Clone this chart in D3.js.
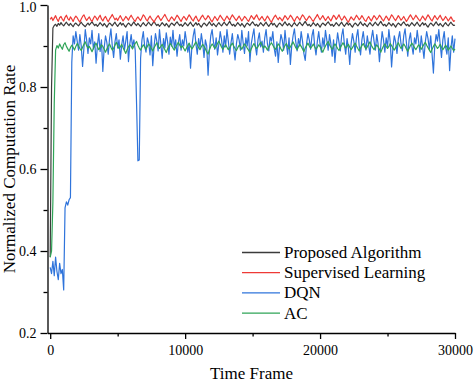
<!DOCTYPE html>
<html><head><meta charset="utf-8">
<script src="https://cdn.jsdelivr.net/npm/d3@7"></script>
<style>
html,body{margin:0;padding:0;background:#fff;}
svg{display:block;}
text{font-family:"Liberation Serif","Times New Roman",Times,serif;fill:#000;}
</style>
</head><body>
<svg id="chart" width="474" height="382"></svg>
<script>
// ---- data ----
const frames = d3.range(0, 30001, 100); // time frame of each sample
const seriesNames = ["Proposed Algorithm", "Supervised Learning", "DQN", "AC"];
const xMajorTicks = [0, 10000, 20000, 30000];
const xMinorTicks = [5000, 15000, 25000];
const yMajorTicks = [0.2, 0.4, 0.6, 0.8, 1.0];
const yMinorTicks = [0.3, 0.5, 0.7, 0.9];
const yTickLabels = ["0.2", "0.4", "0.6", "0.8", "1.0"];
const xTickLabels = ["0", "10000", "20000", "30000"];

const proposed = [
0.385,0.800,0.944,0.950,0.953,0.948,0.955,0.951,0.957,0.952,0.949,0.954,0.958,0.953,0.950,0.955,0.951,0.947,0.953,0.956,
0.952,0.949,0.954,0.958,0.953,0.950,0.947,0.952,0.956,0.951,0.955,0.959,0.954,0.950,0.953,0.948,0.952,0.957,0.953,0.949,
0.955,0.951,0.946,0.952,0.956,0.953,0.949,0.954,0.958,0.952,0.948,0.953,0.957,0.951,0.955,0.950,0.946,0.952,0.956,0.953,
0.949,0.954,0.959,0.953,0.950,0.955,0.951,0.947,0.953,0.957,0.952,0.949,0.954,0.958,0.953,0.950,0.955,0.960,0.954,0.950,
0.953,0.948,0.952,0.957,0.953,0.949,0.955,0.951,0.946,0.952,0.956,0.953,0.950,0.955,0.959,0.954,0.950,0.953,0.948,0.952,
0.957,0.953,0.949,0.954,0.958,0.952,0.948,0.953,0.957,0.951,0.955,0.950,0.946,0.952,0.956,0.953,0.949,0.954,0.959,0.953,
0.950,0.955,0.951,0.947,0.953,0.957,0.952,0.949,0.954,0.958,0.953,0.950,0.955,0.960,0.954,0.950,0.953,0.948,0.952,0.957,
0.953,0.949,0.955,0.951,0.946,0.952,0.956,0.953,0.950,0.955,0.959,0.954,0.950,0.953,0.948,0.952,0.957,0.953,0.949,0.954,
0.958,0.952,0.948,0.953,0.957,0.951,0.955,0.950,0.946,0.952,0.956,0.953,0.949,0.954,0.959,0.953,0.950,0.955,0.951,0.947,
0.953,0.957,0.952,0.949,0.954,0.958,0.953,0.950,0.955,0.960,0.954,0.950,0.953,0.948,0.952,0.957,0.953,0.949,0.955,0.951,
0.946,0.952,0.956,0.953,0.950,0.955,0.959,0.954,0.950,0.953,0.948,0.952,0.957,0.953,0.949,0.954,0.958,0.952,0.948,0.953,
0.957,0.951,0.955,0.950,0.946,0.952,0.956,0.953,0.949,0.954,0.959,0.953,0.950,0.955,0.951,0.947,0.953,0.957,0.952,0.949,
0.954,0.958,0.953,0.950,0.955,0.960,0.954,0.950,0.953,0.948,0.952,0.957,0.953,0.949,0.955,0.951,0.946,0.952,0.956,0.953,
0.950,0.955,0.959,0.954,0.950,0.953,0.948,0.952,0.957,0.953,0.949,0.954,0.958,0.952,0.948,0.953,0.957,0.951,0.955,0.950,
0.946,0.952,0.956,0.953,0.949,0.954,0.959,0.953,0.950,0.955,0.951,0.947,0.953,0.957,0.952,0.949,0.954,0.958,0.953,0.950,
0.951];

const supervised = [
0.965,0.970,0.962,0.968,0.974,0.966,0.960,0.969,0.972,0.965,0.961,0.970,0.975,0.967,0.963,0.971,0.966,0.960,0.968,0.973,
0.969,0.963,0.958,0.966,0.972,0.976,0.968,0.962,0.967,0.971,0.964,0.960,0.967,0.973,0.969,0.963,0.970,0.975,0.966,0.961,
0.968,0.972,0.965,0.959,0.966,0.971,0.977,0.970,0.964,0.968,0.962,0.969,0.974,0.967,0.961,0.966,0.972,0.968,0.963,0.970,
0.975,0.969,0.964,0.960,0.967,0.971,0.966,0.962,0.969,0.976,0.972,0.965,0.961,0.968,0.973,0.967,0.963,0.958,0.965,0.970,
0.974,0.968,0.962,0.967,0.972,0.977,0.970,0.964,0.960,0.966,0.971,0.967,0.962,0.969,0.975,0.971,0.965,0.960,0.967,0.972,
0.968,0.963,0.970,0.976,0.971,0.965,0.961,0.968,0.973,0.966,0.960,0.965,0.971,0.975,0.969,0.964,0.968,0.974,0.970,0.963,
0.959,0.966,0.972,0.967,0.962,0.969,0.975,0.970,0.965,0.961,0.967,0.973,0.968,0.963,0.970,0.976,0.971,0.966,0.962,0.968,
0.973,0.967,0.961,0.966,0.972,0.969,0.964,0.960,0.967,0.974,0.970,0.965,0.971,0.976,0.969,0.963,0.968,0.972,0.966,0.961,
0.967,0.973,0.968,0.962,0.958,0.965,0.971,0.975,0.969,0.964,0.970,0.966,0.961,0.968,0.974,0.970,0.964,0.969,0.975,0.971,
0.965,0.960,0.967,0.972,0.968,0.963,0.970,0.976,0.972,0.966,0.962,0.968,0.973,0.969,0.964,0.960,0.966,0.971,0.977,0.970,
0.964,0.969,0.974,0.968,0.962,0.967,0.972,0.966,0.961,0.968,0.975,0.971,0.965,0.970,0.976,0.969,0.963,0.967,0.973,0.968,
0.962,0.958,0.965,0.971,0.967,0.963,0.969,0.975,0.970,0.964,0.968,0.974,0.969,0.963,0.960,0.967,0.972,0.966,0.961,0.968,
0.974,0.970,0.964,0.969,0.975,0.971,0.965,0.961,0.967,0.973,0.968,0.962,0.969,0.976,0.972,0.966,0.962,0.968,0.974,0.969,
0.963,0.967,0.972,0.966,0.960,0.965,0.971,0.976,0.970,0.964,0.969,0.975,0.970,0.965,0.961,0.967,0.973,0.968,0.963,0.970,
0.976,0.971,0.965,0.961,0.968,0.974,0.969,0.964,0.970,0.975,0.968,0.962,0.966,0.972,0.967,0.961,0.966,0.971,0.965,0.960,
0.962];

const dqn = [
0.360,0.345,0.375,0.340,0.385,0.350,0.330,0.370,0.345,0.355,0.305,0.505,0.520,0.512,0.525,0.530,0.860,0.925,0.905,0.935,
0.912,0.890,0.928,0.900,0.850,0.895,0.940,0.915,0.882,0.920,0.905,0.938,0.893,0.910,0.858,0.902,0.930,0.887,0.915,0.838,
0.895,0.925,0.908,0.880,0.918,0.942,0.900,0.872,0.910,0.930,0.895,0.915,0.868,0.903,0.925,0.890,0.912,0.935,0.862,0.905,
0.928,0.898,0.915,0.890,0.760,0.620,0.622,0.870,0.915,0.935,0.900,0.885,0.920,0.908,0.878,0.925,0.852,0.900,0.930,0.912,
0.888,0.940,0.905,0.870,0.918,0.895,0.932,0.910,0.880,0.922,0.900,0.938,0.895,0.915,0.875,0.908,0.928,0.890,0.915,0.900,
0.935,0.912,0.885,0.905,0.846,0.898,0.925,0.942,0.905,0.880,0.918,0.895,0.930,0.908,0.872,0.915,0.900,0.829,0.890,0.925,
0.940,0.910,0.892,0.920,0.878,0.905,0.935,0.915,0.885,0.925,0.898,0.940,0.912,0.880,0.908,0.930,0.895,0.866,0.905,0.928,
0.915,0.890,0.938,0.908,0.882,0.920,0.900,0.935,0.862,0.905,0.925,0.942,0.900,0.878,0.915,0.932,0.898,0.912,0.885,0.920,
0.940,0.905,0.888,0.922,0.912,0.935,0.895,0.875,0.910,0.860,0.900,0.928,0.915,0.890,0.938,0.905,0.880,0.920,0.855,0.900,
0.925,0.942,0.910,0.888,0.918,0.900,0.935,0.912,0.882,0.865,0.905,0.930,0.915,0.892,0.925,0.940,0.900,0.878,0.912,0.935,
0.905,0.885,0.920,0.898,0.938,0.915,0.890,0.928,0.905,0.875,0.915,0.860,0.900,0.932,0.910,0.888,0.925,0.942,0.905,0.880,
0.918,0.895,0.855,0.905,0.930,0.912,0.885,0.922,0.940,0.900,0.878,0.915,0.935,0.908,0.890,0.925,0.902,0.880,0.918,0.938,
0.912,0.890,0.928,0.905,0.862,0.900,0.935,0.915,0.885,0.920,0.898,0.940,0.910,0.849,0.895,0.925,0.910,0.882,0.918,0.935,
0.905,0.888,0.925,0.942,0.908,0.875,0.915,0.932,0.900,0.880,0.920,0.905,0.938,0.912,0.885,0.925,0.898,0.870,0.910,0.935,
0.918,0.892,0.925,0.880,0.834,0.900,0.928,0.912,0.940,0.905,0.872,0.915,0.935,0.898,0.880,0.920,0.840,0.895,0.925,0.885,
0.918];

const ac = [
0.385,0.400,0.520,0.760,0.890,0.901,0.895,0.905,0.898,0.892,0.903,0.908,0.899,0.893,0.887,0.896,0.902,0.897,0.890,0.899,
0.906,0.900,0.894,0.889,0.897,0.904,0.910,0.901,0.895,0.899,0.893,0.886,0.894,0.902,0.907,0.898,0.891,0.896,0.903,0.899,
0.892,0.885,0.893,0.900,0.905,0.897,0.890,0.895,0.902,0.909,0.901,0.894,0.898,0.904,0.896,0.889,0.882,0.891,0.898,0.903,
0.899,0.893,0.900,0.906,0.911,0.902,0.895,0.890,0.897,0.903,0.898,0.892,0.899,0.905,0.900,0.894,0.888,0.896,0.902,0.908,
0.900,0.894,0.899,0.904,0.897,0.891,0.884,0.893,0.900,0.906,0.901,0.895,0.890,0.897,0.903,0.909,0.902,0.896,0.900,0.894,
0.888,0.895,0.901,0.907,0.899,0.893,0.898,0.904,0.910,0.903,0.896,0.891,0.898,0.904,0.899,0.893,0.886,0.880,0.891,0.899,
0.905,0.900,0.894,0.899,0.906,0.912,0.904,0.897,0.892,0.898,0.903,0.897,0.891,0.896,0.902,0.907,0.900,0.894,0.889,0.896,
0.902,0.898,0.892,0.899,0.905,0.901,0.895,0.890,0.884,0.893,0.900,0.906,0.899,0.894,0.898,0.904,0.909,0.901,0.895,0.900,
0.896,0.890,0.897,0.903,0.908,0.902,0.896,0.892,0.898,0.905,0.900,0.893,0.887,0.894,0.901,0.906,0.899,0.893,0.898,0.904,
0.910,0.903,0.896,0.891,0.898,0.904,0.899,0.893,0.886,0.895,0.901,0.907,0.900,0.895,0.899,0.905,0.898,0.892,0.897,0.903,
0.898,0.891,0.885,0.893,0.900,0.906,0.911,0.903,0.897,0.892,0.899,0.905,0.900,0.894,0.889,0.896,0.902,0.908,0.901,0.895,
0.899,0.904,0.897,0.891,0.896,0.902,0.907,0.900,0.894,0.888,0.895,0.901,0.906,0.899,0.893,0.898,0.904,0.910,0.902,0.896,
0.891,0.897,0.903,0.898,0.892,0.885,0.893,0.900,0.905,0.899,0.894,0.899,0.906,0.901,0.895,0.890,0.896,0.902,0.908,0.900,
0.894,0.899,0.905,0.900,0.893,0.887,0.894,0.901,0.907,0.902,0.896,0.891,0.897,0.903,0.898,0.892,0.898,0.904,0.909,0.902,
0.896,0.890,0.884,0.892,0.899,0.905,0.900,0.894,0.898,0.904,0.897,0.891,0.896,0.902,0.897,0.890,0.895,0.900,0.894,0.889,
0.893];

const seriesValues = [proposed, supervised, dqn, ac];
const seriesColors = ["#3b3b3b", "#ee3a36", "#2f74db", "#2fa457"];

// ---- drawing ----
const serif = '"Liberation Serif", "Times New Roman", Times, serif';
const svg = d3.select("#chart");
const x = d3.scaleLinear().domain([-200, 30000]).range([47.5, 455]);
const y = d3.scaleLinear().domain([0.2, 1.0]).range([333, 5]);

const series = seriesNames.map((name, k) => ({
  name, color: seriesColors[k],
  points: frames.map((f, i) => [f, seriesValues[k][i]])
}));

const line = d3.line().x(d => x(d[0])).y(d => y(d[1]));
svg.append("g").selectAll("path").data(series).join("path")
  .attr("d", d => line(d.points))
  .attr("fill", "none")
  .attr("stroke", d => d.color)
  .attr("stroke-width", 1.2)
  .attr("stroke-linejoin", "round");

// axes
svg.append("g").attr("transform", "translate(0,333)")
  .call(d3.axisBottom(x).tickValues(xMajorTicks).tickSize(6).tickSizeOuter(0).tickPadding(6)
    .tickFormat((d, i) => xTickLabels[i]));
const xMinor = svg.append("g").attr("transform", "translate(0,333)")
  .call(d3.axisBottom(x).tickValues(xMinorTicks).tickSize(3.5).tickFormat(""));
xMinor.select(".domain").remove();

const yAxisG = svg.append("g").attr("transform", "translate(47.5,0)")
  .call(d3.axisLeft(y).tickValues(yMajorTicks).tickSize(7).tickSizeOuter(0).tickPadding(4)
    .tickFormat((d, i) => yTickLabels[i]));
// keep the top label inside the picture
yAxisG.selectAll(".tick text").filter(d => d === 1.0).attr("dy", "0.48em");
const yMinor = svg.append("g").attr("transform", "translate(47.5,0)")
  .call(d3.axisLeft(y).tickValues(yMinorTicks).tickSize(4).tickFormat(""));
yMinor.select(".domain").remove();

svg.selectAll(".domain, .tick line").attr("stroke", "#000").attr("stroke-width", 1.3);
svg.selectAll(".tick text").style("font-family", serif).attr("font-size", 14).attr("fill", "#000");

// axis titles
svg.append("text").attr("x", 251.5).attr("y", 378.5).attr("text-anchor", "middle")
  .style("font-family", serif).attr("font-size", 17).text("Time Frame");
svg.append("text").attr("transform", "translate(15,169) rotate(-90)").attr("text-anchor", "middle")
  .style("font-family", serif).attr("font-size", 17).text("Normalized Computation Rate");

// legend
const leg = svg.append("g").selectAll("g").data(series).join("g")
  .attr("transform", (d, i) => `translate(242,${252.5 + i * 20.2})`);
leg.append("line").attr("x1", 0).attr("x2", 38).attr("y1", 0).attr("y2", 0)
  .attr("stroke", d => d.color).attr("stroke-width", 1.3);
leg.append("text").attr("x", 42).attr("y", 0).attr("dy", "0.32em")
  .style("font-family", serif).attr("font-size", 17).text(d => d.name);
</script>
</body></html>
